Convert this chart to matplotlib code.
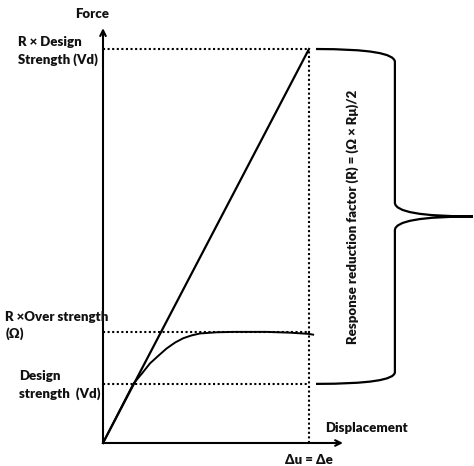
import matplotlib
matplotlib.use("Agg")
import matplotlib.pyplot as plt
from matplotlib.path import Path
from matplotlib.patches import PathPatch

# =========================================================
# Data (displacement normalised to du = de, force to R x Vd)
# =========================================================

elastic_disp = [0.0, 1.0]
elastic_force = [0.0, 1.0]

curve_disp = [0.0, 0.147, 0.19, 0.228, 0.27, 0.309, 0.35, 0.390,
              0.43, 0.471, 0.552, 0.633, 0.714, 0.795, 0.908, 0.997, 1.02]
curve_force = [0.0, 0.150, 0.177, 0.202, 0.222, 0.240, 0.255, 0.266,
               0.273, 0.278, 0.281, 0.282, 0.282, 0.282, 0.280, 0.277, 0.275]

design_strength = 0.150
over_strength = 0.282
r_design_strength = 1.0
delta_u = 1.0

# brace from R x Vd down to Vd
brace_left = 1.034
brace_spine = 1.417
brace_tip = 1.796

# =========================================================
# Figure
# =========================================================

fig = plt.figure(figsize=(4.74, 4.66), dpi=100)
ax = fig.add_axes([0, 0, 1, 1])
ax.set_xlim(-0.5, 1.801)
ax.set_ylim(-0.0584, 1.1244)
ax.axis("off")

font = dict(family="Lato", fontsize=9.5, fontweight="heavy", color="#111111")

# axes arrows
ax.annotate("", xy=(0, 1.053), xytext=(0, 0),
            arrowprops=dict(arrowstyle="->", lw=1.5, color="black",
                            shrinkA=0, shrinkB=0))
ax.annotate("", xy=(1.165, 0), xytext=(0, 0),
            arrowprops=dict(arrowstyle="->", lw=1.5, color="black",
                            shrinkA=0, shrinkB=0))

# dotted reference lines
dot = dict(color="black", lw=1.5, linestyle=(0, (1, 1.2)))
ax.plot([0, delta_u], [r_design_strength, r_design_strength], **dot)
ax.plot([0, delta_u], [over_strength, over_strength], **dot)
ax.plot([0, delta_u], [design_strength, design_strength], **dot)
ax.plot([delta_u, delta_u], [0, r_design_strength], **dot)

# elastic line and actual response
ax.plot(elastic_disp, elastic_force, color="black", lw=1.6)
ax.plot(curve_disp, curve_force, color="black", lw=1.4)

# brace
top = r_design_strength
bot = design_strength
mid = (top + bot) / 2
verts = [
    (brace_left, top), (brace_spine, top), (brace_spine, top - 0.033),
    (brace_spine, mid + 0.035),
    (brace_spine, mid), (brace_tip, mid),
    (brace_spine, mid), (brace_spine, mid - 0.035),
    (brace_spine, bot + 0.03),
    (brace_spine, bot), (brace_left, bot),
]
codes = [
    Path.MOVETO, Path.CURVE3, Path.CURVE3,
    Path.LINETO,
    Path.CURVE3, Path.CURVE3,
    Path.CURVE3, Path.CURVE3,
    Path.LINETO,
    Path.CURVE3, Path.CURVE3,
]
ax.add_patch(PathPatch(Path(verts, codes), fill=False, lw=1.6,
                       edgecolor="black"))

# labels
ax.text(-0.053, 1.089, "Force", ha="center", va="center", **font)
ax.text(-0.413, 0.995, "R × Design\nStrength (Vd)", ha="left", va="center",
        linespacing=1.45, **font)
ax.text(-0.475, 0.298, "R ×Over strength\n(Ω)", ha="left", va="center",
        linespacing=1.45, **font)
ax.text(-0.408, 0.147, "Design\nstrength  (Vd)", ha="left", va="center",
        linespacing=1.45, **font)
ax.text(1.078, 0.038, "Displacement", ha="left", va="center", **font)
ax.text(delta_u, -0.043, "Δu = Δe", ha="center", va="center", **font)
ax.text(1.214, mid, "Response reduction factor (R) = (Ω × Rμ)/2",
        rotation=90, ha="center", va="center", **font)

fig.savefig("out.png", dpi=100)
